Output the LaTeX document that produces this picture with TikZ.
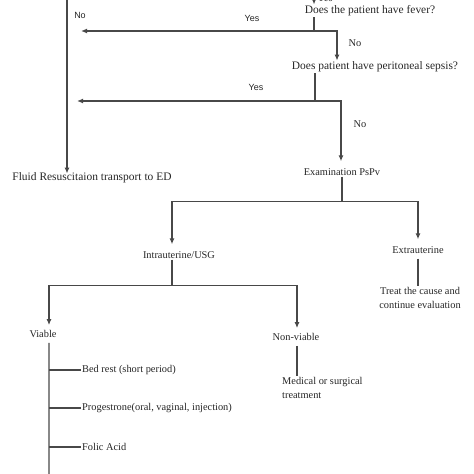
\documentclass[tikz,border=0pt]{standalone}
\usepackage{fontspec}
\setmainfont{Liberation Serif}
\newfontfamily\yesnofont{Liberation Sans}
\usetikzlibrary{arrows, arrows.meta, positioning, calc}
\usepackage{xcolor}
\definecolor{Wire}{HTML}{484848}
\definecolor{Ink}{HTML}{262626}

\tikzset{
  big/.style={text=Ink, inner sep=1bp, font=\fontsize{11.5}{13.5}\selectfont},
  small/.style={text=Ink, inner sep=1bp, font=\fontsize{10.4}{14}\selectfont},
  tag/.style={text=Ink, inner sep=1bp, font=\yesnofont\fontsize{9}{10}\selectfont},
  wire/.style={draw=Wire, line width=1.3bp},
}

\begin{document}
\begin{tikzpicture}[x=1bp, y=-1bp, >={Latex[length=6bp, width=5bp]}]
        \useasboundingbox (0,0) rectangle (474,474);
        % questions
        \node[big] (fever) at (370,11) {Does the patient have fever?};
        \node[big] (sepsis) at (375,67) {Does patient have peritoneal sepsis?};
        \node[big] (fluid) at (92,178) {Fluid Resuscitaion transport to ED};
        \node[small] (exam) at (342,172) {Examination PsPv};
        \node[small] (intra) at (179,255) {Intrauterine/USG};
        \node[small] (extra) at (418,250) {Extrauterine};
        \node[small, align=center] (treat) at (420,298) {Treat the cause and\\continue evaluation};
        \node[small] (viable) at (43,334) {Viable};
        \node[small] (nonviable) at (296,337) {Non-viable};
        \node[small, align=left, anchor=north west] (medical) at (281,376) {Medical or surgical\\treatment};
        \node[small, anchor=west] (bedrest) at (81,370) {Bed rest (short period)};
        \node[small, anchor=west] (proges) at (81,408) {Progestrone(oral, vaginal, injection)};
        \node[small, anchor=west] (folic) at (81,447) {Folic Acid};
        % yes / no tags
        \node[small] (yestop) at (325,-2) {Yes};
        \node[tag] (noleft) at (80,15) {No};
        \node[tag] (yesfever) at (252,18) {Yes};
        \node[small] (nofever) at (355,43) {No};
        \node[tag] (yessepsis) at (256,87) {Yes};
        \node[small] (nosepsis) at (360,124) {No};
        % free ends
        \coordinate (topin) at (314,-10);
        \coordinate (lefttop) at (67,-10);
        \coordinate (fj) at (314,31);
        \coordinate (fyes) at (81,31);
        \coordinate (fno) at (337,31);
        \coordinate (sj) at (315,101);
        \coordinate (syes) at (77,101);
        \coordinate (sno) at (341,101);
        \coordinate (vend) at (49,480);
        % connectors
        \draw[wire, ->] (topin) -- (topin |- fever.north);
        \draw[wire, ->] (lefttop) -- ([yshift=-2bp]lefttop |- fluid.north);
        \draw[wire] (fever.south -| fj) -- (fj);
        \draw[wire, ->] (fj) -- (fyes);
        \draw[wire, ->] (fj) -- (fno) -- (fno |- sepsis.north);
        \draw[wire] (sepsis.south -| sj) -- (sj);
        \draw[wire, ->] (sj) -- (syes);
        \draw[wire, ->] (sj) -- (sno) -- ([yshift=6bp]sno |- exam.north);
        \draw[wire] (exam.south) -- ++(0,25) coordinate (ej);
        \draw[wire, ->] (ej) -| ([yshift=6bp]extra.north);
        \draw[wire, ->] (ej) -| ([xshift=-7bp, yshift=6bp]intra.north);
        \draw[wire] ([yshift=-4bp]extra.south) -- (extra.south |- treat.north);
        \draw[wire] ([xshift=-7bp]intra.south) -- ++(0,26) coordinate (ij);
        \draw[wire, ->] (ij) -| ([xshift=6bp, yshift=4bp]viable.north);
        \draw[wire, ->] (ij) -| ([xshift=1bp, yshift=4bp]nonviable.north);
        \draw[wire] ([xshift=1bp, yshift=-4bp]nonviable.south) -- ([xshift=1bp]nonviable.south |- medical.north);
        \draw[wire] ([xshift=6bp, yshift=-4bp]viable.south) coordinate (vl) -- (vend);
        \draw[wire] (vl |- bedrest.west) -- (bedrest.west);
        \draw[wire] (vl |- proges.west) -- (proges.west);
        \draw[wire] (vl |- folic.west) -- (folic.west);
\end{tikzpicture}
\end{document}
